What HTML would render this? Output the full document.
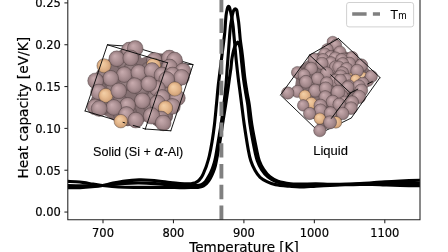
<!DOCTYPE html>
<html><head><meta charset="utf-8"><title>Heat capacity</title>
<style>
html,body{margin:0;padding:0;background:#fff;}
body{width:448px;height:252px;overflow:hidden;}
svg{display:block;}
.tk{font-family:"DejaVu Sans","Liberation Sans",sans-serif;font-size:11.5px;fill:#000;stroke:#000;stroke-width:0.18px;}
.al{font-family:"DejaVu Sans","Liberation Sans",sans-serif;font-size:13.55px;fill:#000;stroke:#000;stroke-width:0.18px;}
.an{font-family:"Liberation Sans",sans-serif;font-size:12.65px;fill:#000;stroke:#000;stroke-width:0.12px;}
</style></head><body>
<svg width="448" height="252" viewBox="0 0 448 252">
<defs>
<radialGradient id="gm" cx="0.5" cy="0.5" r="0.5" fx="0.36" fy="0.32">
<stop offset="0" stop-color="#c9acaf"/><stop offset="0.45" stop-color="#b3979a"/><stop offset="0.8" stop-color="#9e8487"/><stop offset="0.95" stop-color="#8b7376"/><stop offset="1" stop-color="#766163"/>
</radialGradient>
<radialGradient id="gd" cx="0.5" cy="0.5" r="0.5" fx="0.4" fy="0.36">
<stop offset="0" stop-color="#9c8688"/><stop offset="0.6" stop-color="#897476"/><stop offset="1" stop-color="#6b595b"/>
</radialGradient>
<radialGradient id="go" cx="0.5" cy="0.5" r="0.5" fx="0.36" fy="0.32">
<stop offset="0" stop-color="#f3d0a8"/><stop offset="0.45" stop-color="#e9be93"/><stop offset="0.8" stop-color="#d9aa80"/><stop offset="0.95" stop-color="#c39870"/><stop offset="1" stop-color="#a27e5b"/>
</radialGradient>
<clipPath id="axclip"><rect x="67.80" y="-10" width="352.20" height="229.80"/></clipPath>
</defs>
<rect width="448" height="252" fill="#fff"/>

<path d="M107.40,44.80 L132.90,46.60 M132.90,46.60 L193.10,64.60 M167.60,62.80 L193.10,64.60" stroke="#0a0a0a" stroke-width="0.95" fill="none"/>
<polygon points="104.0,65.8 116.4,57.9 129.3,50.0 135.2,48.2 139.6,62.0 154.6,56.6 167.5,56.5 173.5,58.4 183.0,71.0 181.0,77.5 174.8,89.0 177.4,98.0 172.4,106.4 163.2,122.9 151.7,115.6 140.3,120.0 135.0,119.5 120.8,121.3 99.2,108.5 95.1,106.9 98.6,92.0 95.6,80.8" fill="#857072" stroke="#857072" stroke-width="6" stroke-linejoin="round"/>
<circle cx="131.7" cy="52.1" r="7.6" fill="url(#gd)"/>
<circle cx="125.6" cy="55.5" r="7.6" fill="url(#gd)"/>
<circle cx="159.1" cy="61.2" r="7.6" fill="url(#gd)"/>
<circle cx="164.4" cy="61.8" r="7.6" fill="url(#gd)"/>
<circle cx="161.9" cy="64.4" r="7.6" fill="url(#gd)"/>
<circle cx="153.3" cy="65.3" r="7.6" fill="url(#gd)"/>
<circle cx="156.7" cy="66.8" r="7.6" fill="url(#gd)"/>
<circle cx="162.0" cy="67.4" r="7.6" fill="url(#gd)"/>
<circle cx="171.1" cy="61.7" r="7.6" fill="url(#gd)"/>
<circle cx="175.6" cy="63.0" r="7.6" fill="url(#gd)"/>
<circle cx="167.0" cy="66.7" r="7.6" fill="url(#gd)"/>
<circle cx="170.5" cy="66.7" r="7.6" fill="url(#gd)"/>
<circle cx="175.0" cy="68.0" r="7.6" fill="url(#gd)"/>
<circle cx="179.7" cy="69.4" r="7.6" fill="url(#gd)"/>
<circle cx="176.2" cy="70.8" r="7.6" fill="url(#gd)"/>
<circle cx="123.9" cy="63.7" r="7.6" fill="url(#gd)"/>
<circle cx="131.3" cy="68.3" r="7.6" fill="url(#gd)"/>
<circle cx="163.3" cy="70.6" r="7.6" fill="url(#gd)"/>
<circle cx="148.1" cy="69.4" r="7.6" fill="url(#gd)"/>
<circle cx="147.1" cy="73.8" r="7.6" fill="url(#gd)"/>
<circle cx="155.9" cy="70.2" r="7.6" fill="url(#gd)"/>
<circle cx="151.5" cy="73.2" r="7.6" fill="url(#gd)"/>
<circle cx="160.8" cy="73.2" r="7.6" fill="url(#gd)"/>
<circle cx="154.8" cy="74.7" r="7.6" fill="url(#gd)"/>
<circle cx="173.1" cy="72.5" r="7.6" fill="url(#gd)"/>
<circle cx="168.0" cy="72.3" r="7.6" fill="url(#gd)"/>
<circle cx="179.0" cy="74.4" r="7.6" fill="url(#gd)"/>
<circle cx="103.4" cy="75.0" r="7.6" fill="url(#gd)"/>
<circle cx="132.5" cy="77.6" r="7.6" fill="url(#gd)"/>
<circle cx="117.9" cy="81.2" r="7.6" fill="url(#gd)"/>
<circle cx="125.8" cy="83.7" r="7.6" fill="url(#gd)"/>
<circle cx="140.7" cy="80.6" r="7.6" fill="url(#gd)"/>
<circle cx="157.1" cy="78.0" r="7.6" fill="url(#gd)"/>
<circle cx="152.7" cy="81.0" r="7.6" fill="url(#gd)"/>
<circle cx="167.1" cy="76.5" r="7.6" fill="url(#gd)"/>
<circle cx="169.8" cy="79.7" r="7.6" fill="url(#gd)"/>
<circle cx="162.0" cy="81.0" r="7.6" fill="url(#gd)"/>
<circle cx="164.7" cy="84.2" r="7.6" fill="url(#gd)"/>
<circle cx="156.1" cy="82.5" r="7.6" fill="url(#gd)"/>
<circle cx="101.6" cy="83.7" r="7.6" fill="url(#gd)"/>
<circle cx="105.0" cy="88.6" r="7.6" fill="url(#gd)"/>
<circle cx="111.7" cy="88.2" r="7.6" fill="url(#gd)"/>
<circle cx="100.0" cy="89.4" r="7.6" fill="url(#gd)"/>
<circle cx="173.6" cy="77.3" r="7.6" fill="url(#gd)"/>
<circle cx="176.3" cy="80.4" r="7.6" fill="url(#gd)"/>
<circle cx="167.8" cy="88.7" r="7.6" fill="url(#gd)"/>
<circle cx="162.0" cy="88.5" r="7.6" fill="url(#gd)"/>
<circle cx="159.2" cy="86.9" r="7.6" fill="url(#gd)"/>
<circle cx="171.4" cy="94.8" r="7.6" fill="url(#gd)"/>
<circle cx="174.9" cy="97.8" r="7.6" fill="url(#gd)"/>
<circle cx="170.6" cy="100.6" r="7.6" fill="url(#gd)"/>
<circle cx="171.8" cy="104.1" r="7.6" fill="url(#gd)"/>
<circle cx="164.7" cy="91.7" r="7.6" fill="url(#gd)"/>
<circle cx="169.7" cy="97.6" r="7.6" fill="url(#gd)"/>
<circle cx="156.1" cy="90.0" r="7.6" fill="url(#gd)"/>
<circle cx="149.5" cy="91.1" r="7.6" fill="url(#gd)"/>
<circle cx="158.9" cy="96.4" r="7.6" fill="url(#gd)"/>
<circle cx="152.4" cy="97.5" r="7.6" fill="url(#gd)"/>
<circle cx="141.9" cy="90.1" r="7.6" fill="url(#gd)"/>
<circle cx="99.8" cy="98.1" r="7.6" fill="url(#gd)"/>
<circle cx="97.6" cy="102.5" r="7.6" fill="url(#gd)"/>
<circle cx="112.8" cy="97.9" r="7.6" fill="url(#gd)"/>
<circle cx="104.9" cy="103.3" r="7.6" fill="url(#gd)"/>
<circle cx="120.0" cy="101.2" r="7.6" fill="url(#gd)"/>
<circle cx="163.9" cy="102.3" r="7.6" fill="url(#gd)"/>
<circle cx="166.6" cy="103.9" r="7.6" fill="url(#gd)"/>
<circle cx="163.6" cy="109.5" r="7.6" fill="url(#gd)"/>
<circle cx="158.1" cy="108.9" r="7.6" fill="url(#gd)"/>
<circle cx="150.4" cy="106.5" r="7.6" fill="url(#gd)"/>
<circle cx="156.6" cy="112.6" r="7.6" fill="url(#gd)"/>
<circle cx="166.3" cy="111.1" r="7.6" fill="url(#gd)"/>
<circle cx="165.5" cy="116.1" r="7.6" fill="url(#gd)"/>
<circle cx="159.3" cy="114.2" r="7.6" fill="url(#gd)"/>
<circle cx="102.7" cy="107.6" r="7.6" fill="url(#gd)"/>
<circle cx="122.6" cy="109.1" r="7.6" fill="url(#gd)"/>
<circle cx="130.0" cy="113.3" r="7.6" fill="url(#gd)"/>
<circle cx="125.0" cy="113.7" r="7.6" fill="url(#gd)"/>
<circle cx="120.4" cy="114.4" r="7.6" fill="url(#gd)"/>
<circle cx="127.7" cy="118.6" r="7.6" fill="url(#gd)"/>
<circle cx="158.6" cy="119.2" r="7.6" fill="url(#gd)"/>
<circle cx="129.3" cy="50.0" r="7.9" fill="url(#gm)" stroke="#4a3c3c" stroke-opacity="0.6" stroke-width="0.6"/>
<circle cx="135.2" cy="48.4" r="7.9" fill="url(#gm)" stroke="#4a3c3c" stroke-opacity="0.6" stroke-width="0.6"/>
<circle cx="154.4" cy="60.3" r="7.9" fill="url(#gm)" stroke="#4a3c3c" stroke-opacity="0.6" stroke-width="0.6"/>
<circle cx="169.4" cy="58.0" r="7.9" fill="url(#gm)" stroke="#4a3c3c" stroke-opacity="0.6" stroke-width="0.6"/>
<circle cx="174.5" cy="60.0" r="7.9" fill="url(#gm)" stroke="#4a3c3c" stroke-opacity="0.6" stroke-width="0.6"/>
<circle cx="116.8" cy="58.7" r="7.9" fill="url(#gm)" stroke="#4a3c3c" stroke-opacity="0.6" stroke-width="0.6"/>
<circle cx="130.7" cy="57.9" r="7.9" fill="url(#gm)" stroke="#4a3c3c" stroke-opacity="0.6" stroke-width="0.6"/>
<circle cx="153.6" cy="65.2" r="7.2" fill="url(#go)" stroke="#4a3c3c" stroke-opacity="0.6" stroke-width="0.6"/>
<circle cx="169.5" cy="67.0" r="7.9" fill="url(#gm)" stroke="#4a3c3c" stroke-opacity="0.6" stroke-width="0.6"/>
<circle cx="183.0" cy="71.0" r="7.9" fill="url(#gm)" stroke="#4a3c3c" stroke-opacity="0.6" stroke-width="0.6"/>
<circle cx="104.0" cy="65.8" r="7.1" fill="url(#go)" stroke="#4a3c3c" stroke-opacity="0.6" stroke-width="0.6"/>
<circle cx="124.3" cy="74.6" r="7.9" fill="url(#gm)" stroke="#4a3c3c" stroke-opacity="0.6" stroke-width="0.6"/>
<circle cx="138.8" cy="72.5" r="7.9" fill="url(#gm)" stroke="#4a3c3c" stroke-opacity="0.6" stroke-width="0.6"/>
<circle cx="152.0" cy="70.5" r="7.9" fill="url(#gm)" stroke="#4a3c3c" stroke-opacity="0.6" stroke-width="0.6"/>
<circle cx="162.0" cy="75.0" r="7.9" fill="url(#gm)" stroke="#4a3c3c" stroke-opacity="0.6" stroke-width="0.6"/>
<circle cx="110.7" cy="78.3" r="7.9" fill="url(#gm)" stroke="#4a3c3c" stroke-opacity="0.6" stroke-width="0.6"/>
<circle cx="95.6" cy="80.8" r="7.9" fill="url(#gm)" stroke="#4a3c3c" stroke-opacity="0.6" stroke-width="0.6"/>
<circle cx="172.5" cy="75.0" r="7.9" fill="url(#gm)" stroke="#4a3c3c" stroke-opacity="0.6" stroke-width="0.6"/>
<circle cx="181.5" cy="77.3" r="7.9" fill="url(#gm)" stroke="#4a3c3c" stroke-opacity="0.6" stroke-width="0.6"/>
<circle cx="166.7" cy="79.5" r="7.9" fill="url(#gm)" stroke="#4a3c3c" stroke-opacity="0.6" stroke-width="0.6"/>
<circle cx="177.4" cy="98.0" r="7.9" fill="url(#gm)" stroke="#4a3c3c" stroke-opacity="0.6" stroke-width="0.6"/>
<circle cx="174.8" cy="89.0" r="7.2" fill="url(#go)" stroke="#4a3c3c" stroke-opacity="0.6" stroke-width="0.6"/>
<circle cx="157.4" cy="88.6" r="7.9" fill="url(#gm)" stroke="#4a3c3c" stroke-opacity="0.6" stroke-width="0.6"/>
<circle cx="134.5" cy="85.6" r="7.9" fill="url(#gm)" stroke="#4a3c3c" stroke-opacity="0.6" stroke-width="0.6"/>
<circle cx="148.8" cy="83.8" r="7.9" fill="url(#gm)" stroke="#4a3c3c" stroke-opacity="0.6" stroke-width="0.6"/>
<circle cx="98.6" cy="92.0" r="7.9" fill="url(#gm)" stroke="#4a3c3c" stroke-opacity="0.6" stroke-width="0.6"/>
<circle cx="105.8" cy="95.5" r="7.2" fill="url(#go)" stroke="#4a3c3c" stroke-opacity="0.6" stroke-width="0.6"/>
<circle cx="118.7" cy="90.8" r="7.9" fill="url(#gm)" stroke="#4a3c3c" stroke-opacity="0.6" stroke-width="0.6"/>
<circle cx="162.0" cy="97.5" r="7.9" fill="url(#gm)" stroke="#4a3c3c" stroke-opacity="0.6" stroke-width="0.6"/>
<circle cx="157.4" cy="103.0" r="7.9" fill="url(#gm)" stroke="#4a3c3c" stroke-opacity="0.6" stroke-width="0.6"/>
<circle cx="172.4" cy="106.4" r="7.9" fill="url(#gm)" stroke="#4a3c3c" stroke-opacity="0.6" stroke-width="0.6"/>
<circle cx="165.5" cy="107.9" r="7.2" fill="url(#go)" stroke="#4a3c3c" stroke-opacity="0.6" stroke-width="0.6"/>
<circle cx="95.1" cy="106.9" r="7.9" fill="url(#gm)" stroke="#4a3c3c" stroke-opacity="0.6" stroke-width="0.6"/>
<circle cx="142.3" cy="100.8" r="7.9" fill="url(#gm)" stroke="#4a3c3c" stroke-opacity="0.6" stroke-width="0.6"/>
<circle cx="127.6" cy="105.3" r="7.9" fill="url(#gm)" stroke="#4a3c3c" stroke-opacity="0.6" stroke-width="0.6"/>
<circle cx="113.8" cy="107.4" r="7.9" fill="url(#gm)" stroke="#4a3c3c" stroke-opacity="0.6" stroke-width="0.6"/>
<circle cx="99.2" cy="108.5" r="7.9" fill="url(#gm)" stroke="#4a3c3c" stroke-opacity="0.6" stroke-width="0.6"/>
<circle cx="126.5" cy="114.5" r="7.9" fill="url(#gm)" stroke="#4a3c3c" stroke-opacity="0.6" stroke-width="0.6"/>
<circle cx="161.0" cy="119.0" r="7.9" fill="url(#gm)" stroke="#4a3c3c" stroke-opacity="0.6" stroke-width="0.6"/>
<circle cx="135.8" cy="120.1" r="7.9" fill="url(#gm)" stroke="#4a3c3c" stroke-opacity="0.6" stroke-width="0.6"/>
<circle cx="151.5" cy="115.8" r="8.3" fill="url(#gm)" stroke="#4a3c3c" stroke-opacity="0.6" stroke-width="0.6"/>
<circle cx="163.2" cy="122.9" r="7.9" fill="url(#gm)" stroke="#4a3c3c" stroke-opacity="0.6" stroke-width="0.6"/>
<circle cx="120.8" cy="121.2" r="6.8" fill="url(#go)" stroke="#4a3c3c" stroke-opacity="0.6" stroke-width="0.6"/>
<path d="M107.40,44.80 L167.60,62.80 M107.40,44.80 L85.10,111.00 M167.60,62.80 L145.30,129.00 M145.30,129.00 L170.80,130.80 M193.10,64.60 L170.80,130.80 M85.10,111.00 L113.39,119.46 M123.03,122.34 L124.83,122.88 M133.26,125.40 L139.88,127.38 M142.89,128.28 L145.30,129.00" stroke="#0a0a0a" stroke-width="0.95" fill="none" stroke-linecap="round"/>
<path d="M280.50,95.00 L320.30,133.20 M320.30,133.20 L351.30,118.00" stroke="#0a0a0a" stroke-width="0.95" fill="none" stroke-linejoin="round"/>
<polygon points="332.7,41.9 339.9,52.0 352.1,57.4 361.4,65.2 371.3,76.4 362.8,83.4 361.2,90.4 359.0,96.9 352.1,102.2 351.0,108.1 342.6,113.5 335.9,122.3 330.0,122.3 319.8,130.6 319.8,118.6 309.6,113.5 311.3,103.2 304.9,95.8 297.4,91.4 287.8,93.0 297.4,91.4 299.0,80.0 297.4,72.4 313.9,59.0 324.7,53.7 327.3,49.4" fill="#857072" stroke="#857072" stroke-width="6" stroke-linejoin="round"/>
<circle cx="332.0" cy="45.5" r="5.4" fill="url(#gd)"/>
<circle cx="334.4" cy="48.8" r="5.4" fill="url(#gd)"/>
<circle cx="331.2" cy="50.3" r="5.4" fill="url(#gd)"/>
<circle cx="337.0" cy="51.7" r="5.4" fill="url(#gd)"/>
<circle cx="333.9" cy="53.2" r="5.4" fill="url(#gd)"/>
<circle cx="327.5" cy="53.2" r="5.4" fill="url(#gd)"/>
<circle cx="331.0" cy="54.6" r="5.4" fill="url(#gd)"/>
<circle cx="337.3" cy="56.0" r="5.4" fill="url(#gd)"/>
<circle cx="341.8" cy="56.8" r="5.4" fill="url(#gd)"/>
<circle cx="326.1" cy="56.5" r="5.4" fill="url(#gd)"/>
<circle cx="320.5" cy="57.4" r="5.4" fill="url(#gd)"/>
<circle cx="323.2" cy="58.9" r="5.4" fill="url(#gd)"/>
<circle cx="330.3" cy="58.1" r="5.4" fill="url(#gd)"/>
<circle cx="333.8" cy="60.5" r="5.4" fill="url(#gd)"/>
<circle cx="327.8" cy="60.8" r="5.4" fill="url(#gd)"/>
<circle cx="319.6" cy="60.6" r="5.4" fill="url(#gd)"/>
<circle cx="315.7" cy="63.7" r="5.4" fill="url(#gd)"/>
<circle cx="340.6" cy="60.2" r="5.4" fill="url(#gd)"/>
<circle cx="337.5" cy="61.5" r="5.4" fill="url(#gd)"/>
<circle cx="345.9" cy="58.6" r="5.4" fill="url(#gd)"/>
<circle cx="347.5" cy="61.7" r="5.4" fill="url(#gd)"/>
<circle cx="344.0" cy="62.4" r="5.4" fill="url(#gd)"/>
<circle cx="340.7" cy="63.2" r="5.4" fill="url(#gd)"/>
<circle cx="354.3" cy="62.0" r="5.4" fill="url(#gd)"/>
<circle cx="326.6" cy="66.4" r="5.4" fill="url(#gd)"/>
<circle cx="336.4" cy="64.4" r="5.4" fill="url(#gd)"/>
<circle cx="331.1" cy="67.6" r="5.4" fill="url(#gd)"/>
<circle cx="346.5" cy="66.5" r="5.4" fill="url(#gd)"/>
<circle cx="346.5" cy="69.5" r="5.4" fill="url(#gd)"/>
<circle cx="351.4" cy="68.8" r="5.4" fill="url(#gd)"/>
<circle cx="343.0" cy="67.7" r="5.4" fill="url(#gd)"/>
<circle cx="343.6" cy="70.7" r="5.4" fill="url(#gd)"/>
<circle cx="346.9" cy="73.6" r="5.4" fill="url(#gd)"/>
<circle cx="343.6" cy="73.8" r="5.4" fill="url(#gd)"/>
<circle cx="353.5" cy="74.3" r="5.4" fill="url(#gd)"/>
<circle cx="344.9" cy="77.5" r="5.4" fill="url(#gd)"/>
<circle cx="350.0" cy="77.3" r="5.4" fill="url(#gd)"/>
<circle cx="360.4" cy="71.1" r="5.4" fill="url(#gd)"/>
<circle cx="358.5" cy="75.9" r="5.4" fill="url(#gd)"/>
<circle cx="367.4" cy="78.3" r="5.4" fill="url(#gd)"/>
<circle cx="362.2" cy="79.3" r="5.4" fill="url(#gd)"/>
<circle cx="359.2" cy="81.1" r="5.4" fill="url(#gd)"/>
<circle cx="361.0" cy="84.7" r="5.4" fill="url(#gd)"/>
<circle cx="356.0" cy="66.4" r="5.4" fill="url(#gd)"/>
<circle cx="339.6" cy="68.9" r="5.4" fill="url(#gd)"/>
<circle cx="339.6" cy="71.9" r="5.4" fill="url(#gd)"/>
<circle cx="300.8" cy="73.8" r="5.4" fill="url(#gd)"/>
<circle cx="305.4" cy="72.5" r="5.4" fill="url(#gd)"/>
<circle cx="303.6" cy="76.9" r="5.4" fill="url(#gd)"/>
<circle cx="339.5" cy="76.4" r="5.4" fill="url(#gd)"/>
<circle cx="323.8" cy="78.3" r="5.4" fill="url(#gd)"/>
<circle cx="329.7" cy="78.9" r="5.4" fill="url(#gd)"/>
<circle cx="312.9" cy="83.7" r="5.4" fill="url(#gd)"/>
<circle cx="323.4" cy="83.3" r="5.4" fill="url(#gd)"/>
<circle cx="319.5" cy="85.8" r="5.4" fill="url(#gd)"/>
<circle cx="340.8" cy="80.1" r="5.4" fill="url(#gd)"/>
<circle cx="337.9" cy="84.2" r="5.4" fill="url(#gd)"/>
<circle cx="329.3" cy="83.9" r="5.4" fill="url(#gd)"/>
<circle cx="333.0" cy="86.9" r="5.4" fill="url(#gd)"/>
<circle cx="345.3" cy="82.0" r="5.4" fill="url(#gd)"/>
<circle cx="350.4" cy="81.8" r="5.4" fill="url(#gd)"/>
<circle cx="347.8" cy="84.3" r="5.4" fill="url(#gd)"/>
<circle cx="342.4" cy="86.1" r="5.4" fill="url(#gd)"/>
<circle cx="354.5" cy="83.9" r="5.4" fill="url(#gd)"/>
<circle cx="351.9" cy="86.5" r="5.4" fill="url(#gd)"/>
<circle cx="346.0" cy="89.7" r="5.4" fill="url(#gd)"/>
<circle cx="342.8" cy="91.3" r="5.4" fill="url(#gd)"/>
<circle cx="359.7" cy="91.1" r="5.4" fill="url(#gd)"/>
<circle cx="322.0" cy="91.9" r="5.4" fill="url(#gd)"/>
<circle cx="326.1" cy="101.4" r="5.4" fill="url(#gd)"/>
<circle cx="337.4" cy="96.5" r="5.4" fill="url(#gd)"/>
<circle cx="341.5" cy="96.7" r="5.4" fill="url(#gd)"/>
<circle cx="339.7" cy="99.9" r="5.4" fill="url(#gd)"/>
<circle cx="346.2" cy="100.1" r="5.4" fill="url(#gd)"/>
<circle cx="327.9" cy="106.8" r="5.4" fill="url(#gd)"/>
<circle cx="334.1" cy="106.4" r="5.4" fill="url(#gd)"/>
<circle cx="349.4" cy="104.2" r="5.4" fill="url(#gd)"/>
<circle cx="345.1" cy="104.9" r="5.4" fill="url(#gd)"/>
<circle cx="342.3" cy="106.7" r="5.4" fill="url(#gd)"/>
<circle cx="346.2" cy="107.9" r="5.4" fill="url(#gd)"/>
<circle cx="317.4" cy="106.3" r="5.4" fill="url(#gd)"/>
<circle cx="313.8" cy="108.9" r="5.4" fill="url(#gd)"/>
<circle cx="323.8" cy="109.6" r="5.4" fill="url(#gd)"/>
<circle cx="337.4" cy="110.3" r="5.4" fill="url(#gd)"/>
<circle cx="323.6" cy="113.9" r="5.4" fill="url(#gd)"/>
<circle cx="316.6" cy="114.1" r="5.4" fill="url(#gd)"/>
<circle cx="336.3" cy="116.3" r="5.4" fill="url(#gd)"/>
<circle cx="332.1" cy="119.2" r="5.4" fill="url(#gd)"/>
<circle cx="326.8" cy="118.0" r="5.4" fill="url(#gd)"/>
<circle cx="332.7" cy="41.9" r="5.7" fill="url(#gm)" stroke="#4a3c3c" stroke-opacity="0.6" stroke-width="0.6"/>
<circle cx="335.9" cy="45.1" r="5.8" fill="url(#gm)" stroke="#4a3c3c" stroke-opacity="0.6" stroke-width="0.6"/>
<circle cx="327.3" cy="49.4" r="5.9" fill="url(#gm)" stroke="#4a3c3c" stroke-opacity="0.6" stroke-width="0.6"/>
<circle cx="339.9" cy="52.0" r="6.1" fill="url(#gm)" stroke="#4a3c3c" stroke-opacity="0.6" stroke-width="0.6"/>
<circle cx="324.7" cy="53.7" r="5.9" fill="url(#gm)" stroke="#4a3c3c" stroke-opacity="0.6" stroke-width="0.6"/>
<circle cx="330.5" cy="56.4" r="5.9" fill="url(#gm)" stroke="#4a3c3c" stroke-opacity="0.6" stroke-width="0.6"/>
<circle cx="313.9" cy="59.0" r="6.0" fill="url(#gm)" stroke="#4a3c3c" stroke-opacity="0.6" stroke-width="0.6"/>
<circle cx="323.0" cy="59.5" r="6.1" fill="url(#gm)" stroke="#4a3c3c" stroke-opacity="0.6" stroke-width="0.6"/>
<circle cx="335.2" cy="58.0" r="6.2" fill="url(#gm)" stroke="#4a3c3c" stroke-opacity="0.6" stroke-width="0.6"/>
<circle cx="344.0" cy="59.0" r="6.1" fill="url(#gm)" stroke="#4a3c3c" stroke-opacity="0.6" stroke-width="0.6"/>
<circle cx="352.1" cy="57.4" r="6.1" fill="url(#gm)" stroke="#4a3c3c" stroke-opacity="0.6" stroke-width="0.6"/>
<circle cx="331.0" cy="62.7" r="6.1" fill="url(#gm)" stroke="#4a3c3c" stroke-opacity="0.6" stroke-width="0.6"/>
<circle cx="341.6" cy="59.5" r="6.1" fill="url(#gm)" stroke="#4a3c3c" stroke-opacity="0.6" stroke-width="0.6"/>
<circle cx="347.6" cy="72.6" r="5.7" fill="url(#go)" stroke="#4a3c3c" stroke-opacity="0.6" stroke-width="0.6"/>
<circle cx="362.8" cy="77.6" r="5.7" fill="url(#go)" stroke="#4a3c3c" stroke-opacity="0.6" stroke-width="0.6"/>
<circle cx="349.4" cy="63.3" r="6.2" fill="url(#gm)" stroke="#4a3c3c" stroke-opacity="0.6" stroke-width="0.6"/>
<circle cx="361.4" cy="65.2" r="6.4" fill="url(#gm)" stroke="#4a3c3c" stroke-opacity="0.6" stroke-width="0.6"/>
<circle cx="322.0" cy="63.4" r="6.2" fill="url(#gm)" stroke="#4a3c3c" stroke-opacity="0.6" stroke-width="0.6"/>
<circle cx="342.6" cy="63.6" r="6.2" fill="url(#gm)" stroke="#4a3c3c" stroke-opacity="0.6" stroke-width="0.6"/>
<circle cx="335.6" cy="67.0" r="6.3" fill="url(#gm)" stroke="#4a3c3c" stroke-opacity="0.6" stroke-width="0.6"/>
<circle cx="338.7" cy="67.0" r="6.1" fill="url(#gm)" stroke="#4a3c3c" stroke-opacity="0.6" stroke-width="0.6"/>
<circle cx="301.0" cy="74.0" r="6.1" fill="url(#gm)" stroke="#4a3c3c" stroke-opacity="0.6" stroke-width="0.6"/>
<circle cx="297.4" cy="72.4" r="6.0" fill="url(#gm)" stroke="#4a3c3c" stroke-opacity="0.6" stroke-width="0.6"/>
<circle cx="311.2" cy="68.6" r="6.4" fill="url(#gm)" stroke="#4a3c3c" stroke-opacity="0.6" stroke-width="0.6"/>
<circle cx="346.5" cy="68.6" r="6.2" fill="url(#gm)" stroke="#4a3c3c" stroke-opacity="0.6" stroke-width="0.6"/>
<circle cx="342.4" cy="72.7" r="6.2" fill="url(#gm)" stroke="#4a3c3c" stroke-opacity="0.6" stroke-width="0.6"/>
<circle cx="357.1" cy="70.6" r="6.4" fill="url(#gm)" stroke="#4a3c3c" stroke-opacity="0.6" stroke-width="0.6"/>
<circle cx="304.0" cy="75.0" r="6.1" fill="url(#gm)" stroke="#4a3c3c" stroke-opacity="0.6" stroke-width="0.6"/>
<circle cx="326.8" cy="73.2" r="6.4" fill="url(#gm)" stroke="#4a3c3c" stroke-opacity="0.6" stroke-width="0.6"/>
<circle cx="340.7" cy="76.0" r="6.3" fill="url(#gm)" stroke="#4a3c3c" stroke-opacity="0.6" stroke-width="0.6"/>
<circle cx="368.0" cy="80.8" r="5.7" fill="url(#gm)" stroke="#4a3c3c" stroke-opacity="0.6" stroke-width="0.6"/>
<circle cx="371.3" cy="76.4" r="6.2" fill="url(#gm)" stroke="#4a3c3c" stroke-opacity="0.6" stroke-width="0.6"/>
<circle cx="317.7" cy="78.6" r="6.4" fill="url(#gm)" stroke="#4a3c3c" stroke-opacity="0.6" stroke-width="0.6"/>
<circle cx="335.4" cy="80.4" r="6.4" fill="url(#gm)" stroke="#4a3c3c" stroke-opacity="0.6" stroke-width="0.6"/>
<circle cx="346.7" cy="79.7" r="6.3" fill="url(#gm)" stroke="#4a3c3c" stroke-opacity="0.6" stroke-width="0.6"/>
<circle cx="340.3" cy="80.2" r="6.2" fill="url(#gm)" stroke="#4a3c3c" stroke-opacity="0.6" stroke-width="0.6"/>
<circle cx="305.9" cy="81.8" r="6.5" fill="url(#gm)" stroke="#4a3c3c" stroke-opacity="0.6" stroke-width="0.6"/>
<circle cx="326.8" cy="83.0" r="6.3" fill="url(#gm)" stroke="#4a3c3c" stroke-opacity="0.6" stroke-width="0.6"/>
<circle cx="355.7" cy="79.6" r="5.3" fill="url(#go)" stroke="#4a3c3c" stroke-opacity="0.6" stroke-width="0.6"/>
<circle cx="362.8" cy="83.4" r="6.2" fill="url(#gm)" stroke="#4a3c3c" stroke-opacity="0.6" stroke-width="0.6"/>
<circle cx="348.9" cy="86.1" r="6.3" fill="url(#gm)" stroke="#4a3c3c" stroke-opacity="0.6" stroke-width="0.6"/>
<circle cx="359.0" cy="86.1" r="6.3" fill="url(#gm)" stroke="#4a3c3c" stroke-opacity="0.6" stroke-width="0.6"/>
<circle cx="315.2" cy="90.6" r="6.6" fill="url(#gm)" stroke="#4a3c3c" stroke-opacity="0.6" stroke-width="0.6"/>
<circle cx="325.7" cy="88.3" r="6.5" fill="url(#gm)" stroke="#4a3c3c" stroke-opacity="0.6" stroke-width="0.6"/>
<circle cx="361.2" cy="90.4" r="6.5" fill="url(#gm)" stroke="#4a3c3c" stroke-opacity="0.6" stroke-width="0.6"/>
<circle cx="297.4" cy="91.4" r="6.2" fill="url(#gm)" stroke="#4a3c3c" stroke-opacity="0.6" stroke-width="0.6"/>
<circle cx="287.8" cy="93.0" r="6.2" fill="url(#gm)" stroke="#4a3c3c" stroke-opacity="0.6" stroke-width="0.6"/>
<circle cx="347.8" cy="87.2" r="6.3" fill="url(#gm)" stroke="#4a3c3c" stroke-opacity="0.6" stroke-width="0.6"/>
<circle cx="304.9" cy="95.8" r="5.9" fill="url(#go)" stroke="#4a3c3c" stroke-opacity="0.6" stroke-width="0.6"/>
<circle cx="325.2" cy="96.9" r="6.3" fill="url(#gm)" stroke="#4a3c3c" stroke-opacity="0.6" stroke-width="0.6"/>
<circle cx="341.4" cy="95.8" r="6.5" fill="url(#gm)" stroke="#4a3c3c" stroke-opacity="0.6" stroke-width="0.6"/>
<circle cx="338.0" cy="92.0" r="6.9" fill="url(#gm)" stroke="#4a3c3c" stroke-opacity="0.6" stroke-width="0.6"/>
<circle cx="359.0" cy="96.9" r="6.7" fill="url(#gm)" stroke="#4a3c3c" stroke-opacity="0.6" stroke-width="0.6"/>
<circle cx="332.7" cy="101.7" r="6.6" fill="url(#gm)" stroke="#4a3c3c" stroke-opacity="0.6" stroke-width="0.6"/>
<circle cx="345.0" cy="102.2" r="6.3" fill="url(#gm)" stroke="#4a3c3c" stroke-opacity="0.6" stroke-width="0.6"/>
<circle cx="352.1" cy="102.2" r="6.5" fill="url(#gm)" stroke="#4a3c3c" stroke-opacity="0.6" stroke-width="0.6"/>
<circle cx="311.3" cy="103.2" r="6.0" fill="url(#go)" stroke="#4a3c3c" stroke-opacity="0.6" stroke-width="0.6"/>
<circle cx="303.2" cy="105.4" r="5.8" fill="url(#gm)" stroke="#4a3c3c" stroke-opacity="0.6" stroke-width="0.6"/>
<circle cx="320.4" cy="105.6" r="6.5" fill="url(#gm)" stroke="#4a3c3c" stroke-opacity="0.6" stroke-width="0.6"/>
<circle cx="339.2" cy="104.4" r="6.4" fill="url(#gm)" stroke="#4a3c3c" stroke-opacity="0.6" stroke-width="0.6"/>
<circle cx="351.0" cy="108.1" r="6.4" fill="url(#gm)" stroke="#4a3c3c" stroke-opacity="0.6" stroke-width="0.6"/>
<circle cx="320.4" cy="110.1" r="6.3" fill="url(#gm)" stroke="#4a3c3c" stroke-opacity="0.6" stroke-width="0.6"/>
<circle cx="330.5" cy="113.0" r="6.4" fill="url(#gm)" stroke="#4a3c3c" stroke-opacity="0.6" stroke-width="0.6"/>
<circle cx="342.6" cy="113.5" r="6.3" fill="url(#gm)" stroke="#4a3c3c" stroke-opacity="0.6" stroke-width="0.6"/>
<circle cx="309.6" cy="113.5" r="6.2" fill="url(#gm)" stroke="#4a3c3c" stroke-opacity="0.6" stroke-width="0.6"/>
<circle cx="335.9" cy="122.3" r="5.9" fill="url(#go)" stroke="#4a3c3c" stroke-opacity="0.6" stroke-width="0.6"/>
<circle cx="319.8" cy="118.6" r="5.7" fill="url(#go)" stroke="#4a3c3c" stroke-opacity="0.6" stroke-width="0.6"/>
<circle cx="330.0" cy="122.3" r="6.6" fill="url(#gm)" stroke="#4a3c3c" stroke-opacity="0.6" stroke-width="0.6"/>
<circle cx="319.8" cy="130.6" r="6.2" fill="url(#gm)" stroke="#4a3c3c" stroke-opacity="0.6" stroke-width="0.6"/>
<path d="M309.60,55.10 L338.40,38.50 M338.40,38.50 L380.00,77.50 M309.60,55.10 L280.50,95.00 M380.00,77.50 L351.30,118.00 M309.60,55.10 L325.92,70.26 M330.82,74.81 L350.40,93.00 M350.40,93.00 L357.80,89.12 M367.57,84.01 L372.30,81.53 M350.40,93.00 L331.44,118.33" stroke="#0a0a0a" stroke-width="0.95" fill="none" stroke-linecap="round"/>
<g clip-path="url(#axclip)" fill="none" stroke="#000" stroke-width="3.12" stroke-linejoin="round" stroke-linecap="butt">
<path d="M60.00,187.70 C61.33,187.70 64.67,187.72 68.00,187.70 C71.33,187.68 76.00,187.75 80.00,187.60 C84.00,187.45 88.27,187.15 92.00,186.80 C95.73,186.45 99.07,186.07 102.40,185.50 C105.73,184.93 108.23,184.15 112.00,183.40 C115.77,182.65 120.50,181.58 125.00,181.00 C129.50,180.42 134.83,180.03 139.00,179.90 C143.17,179.77 146.50,179.98 150.00,180.20 C153.50,180.42 156.67,180.80 160.00,181.20 C163.33,181.60 166.67,182.22 170.00,182.60 C173.33,182.98 176.50,183.32 180.00,183.50 C183.50,183.68 188.50,183.80 191.00,183.70 C193.50,183.60 193.75,183.38 195.00,182.90 C196.25,182.42 197.50,181.65 198.50,180.80 C199.50,179.95 200.27,178.83 201.00,177.80 C201.73,176.77 202.27,175.90 202.90,174.60 C203.53,173.30 204.22,171.43 204.80,170.00 C205.38,168.57 205.65,168.33 206.40,166.00 C207.15,163.67 208.37,160.00 209.30,156.00 C210.23,152.00 211.15,147.17 212.00,142.00 C212.85,136.83 213.67,131.17 214.40,125.00 C215.13,118.83 215.75,111.67 216.40,105.00 C217.05,98.33 217.63,91.17 218.30,85.00 C218.97,78.83 219.70,73.67 220.40,68.00 C221.10,62.33 221.80,56.67 222.50,51.00 C223.20,45.33 224.13,38.33 224.60,34.00 C225.07,29.67 225.07,28.00 225.30,25.00 C225.53,22.00 225.73,18.42 226.00,16.00 C226.27,13.58 226.62,11.95 226.90,10.50 C227.18,9.05 227.42,8.02 227.70,7.30 C227.98,6.58 228.30,6.20 228.60,6.20 C228.90,6.20 229.22,6.58 229.50,7.30 C229.78,8.02 229.97,9.05 230.30,10.50 C230.63,11.95 231.18,14.42 231.50,16.00 C231.82,17.58 231.92,18.17 232.20,20.00 C232.48,21.83 232.93,24.67 233.20,27.00 C233.47,29.33 233.45,30.17 233.80,34.00 C234.15,37.83 234.90,45.67 235.30,50.00 C235.70,54.33 235.72,55.33 236.20,60.00 C236.68,64.67 237.52,72.33 238.20,78.00 C238.88,83.67 239.72,89.50 240.30,94.00 C240.88,98.50 241.03,99.83 241.70,105.00 C242.37,110.17 243.20,117.50 244.30,125.00 C245.40,132.50 247.22,144.05 248.30,150.00 C249.38,155.95 249.67,157.28 250.80,160.70 C251.93,164.12 253.55,167.73 255.10,170.50 C256.65,173.27 258.13,175.45 260.10,177.30 C262.07,179.15 264.33,180.38 266.90,181.60 C269.47,182.82 271.72,183.82 275.50,184.60 C279.28,185.38 285.52,185.90 289.60,186.30 C293.68,186.70 295.60,187.03 300.00,187.00 C304.40,186.97 311.00,186.37 316.00,186.10 C321.00,185.83 325.17,185.62 330.00,185.40 C334.83,185.18 340.00,184.97 345.00,184.80 C350.00,184.63 355.50,184.47 360.00,184.40 C364.50,184.33 367.83,184.32 372.00,184.40 C376.17,184.48 380.33,184.73 385.00,184.90 C389.67,185.07 394.17,185.25 400.00,185.40 C405.83,185.55 415.00,185.72 420.00,185.80 C425.00,185.88 428.33,185.88 430.00,185.90"/>
<path d="M60.00,185.50 C61.33,185.52 64.67,185.55 68.00,185.60 C71.33,185.65 76.00,185.77 80.00,185.80 C84.00,185.83 88.27,185.85 92.00,185.80 C95.73,185.75 99.07,185.70 102.40,185.50 C105.73,185.30 108.23,184.95 112.00,184.60 C115.77,184.25 120.50,183.67 125.00,183.40 C129.50,183.13 134.00,182.97 139.00,183.00 C144.00,183.03 149.83,183.28 155.00,183.60 C160.17,183.92 165.83,184.58 170.00,184.90 C174.17,185.22 176.50,185.38 180.00,185.50 C183.50,185.62 188.17,185.58 191.00,185.60 C193.83,185.62 195.42,185.70 197.00,185.60 C198.58,185.50 199.52,185.28 200.50,185.00 C201.48,184.72 202.07,184.48 202.90,183.90 C203.73,183.32 204.63,182.58 205.50,181.50 C206.37,180.42 207.27,178.82 208.10,177.40 C208.93,175.98 209.80,174.42 210.50,173.00 C211.20,171.58 211.68,170.57 212.30,168.90 C212.92,167.23 213.62,165.15 214.20,163.00 C214.78,160.85 215.08,159.83 215.80,156.00 C216.52,152.17 217.63,145.17 218.50,140.00 C219.37,134.83 220.12,130.83 221.00,125.00 C221.88,119.17 222.98,111.50 223.80,105.00 C224.62,98.50 225.33,92.17 225.90,86.00 C226.47,79.83 226.75,74.00 227.20,68.00 C227.65,62.00 228.20,55.33 228.60,50.00 C229.00,44.67 229.30,39.83 229.60,36.00 C229.90,32.17 230.08,29.67 230.40,27.00 C230.72,24.33 231.13,22.17 231.50,20.00 C231.87,17.83 232.22,15.62 232.60,14.00 C232.98,12.38 233.33,11.18 233.80,10.30 C234.27,9.42 234.90,8.70 235.40,8.70 C235.90,8.70 236.42,9.08 236.80,10.30 C237.18,11.52 237.40,14.05 237.70,16.00 C238.00,17.95 238.32,19.67 238.60,22.00 C238.88,24.33 239.12,27.00 239.40,30.00 C239.68,33.00 239.92,36.67 240.30,40.00 C240.68,43.33 241.27,46.67 241.70,50.00 C242.13,53.33 242.38,55.33 242.90,60.00 C243.42,64.67 244.07,72.33 244.80,78.00 C245.53,83.67 246.55,89.50 247.30,94.00 C248.05,98.50 248.53,99.83 249.30,105.00 C250.07,110.17 250.67,117.50 251.90,125.00 C253.13,132.50 255.47,144.05 256.70,150.00 C257.93,155.95 258.12,157.43 259.30,160.70 C260.48,163.97 262.02,166.92 263.80,169.60 C265.58,172.28 267.63,174.86 270.00,176.80 C272.37,178.74 274.57,180.08 278.00,181.25 C281.43,182.42 286.93,183.33 290.60,183.80 C294.27,184.28 295.77,184.08 300.00,184.10 C304.23,184.12 311.00,183.87 316.00,183.90 C321.00,183.93 325.17,184.25 330.00,184.30 C334.83,184.35 340.00,184.32 345.00,184.20 C350.00,184.08 355.50,183.83 360.00,183.60 C364.50,183.37 367.83,183.10 372.00,182.80 C376.17,182.50 380.33,182.10 385.00,181.80 C389.67,181.50 394.17,181.27 400.00,181.00 C405.83,180.73 415.00,180.38 420.00,180.20 C425.00,180.02 428.33,179.95 430.00,179.90"/>
<path d="M60.00,181.20 C61.33,181.23 65.33,181.32 68.00,181.40 C70.67,181.48 73.33,181.50 76.00,181.70 C78.67,181.90 81.17,182.20 84.00,182.60 C86.83,183.00 89.93,183.62 93.00,184.10 C96.07,184.58 99.23,185.10 102.40,185.50 C105.57,185.90 108.23,186.22 112.00,186.50 C115.77,186.78 120.50,187.05 125.00,187.20 C129.50,187.35 134.00,187.37 139.00,187.40 C144.00,187.43 149.83,187.38 155.00,187.40 C160.17,187.42 165.83,187.47 170.00,187.50 C174.17,187.53 176.50,187.60 180.00,187.60 C183.50,187.60 188.00,187.53 191.00,187.50 C194.00,187.47 196.17,187.55 198.00,187.40 C199.83,187.25 200.83,187.02 202.00,186.60 C203.17,186.18 204.00,185.70 205.00,184.90 C206.00,184.10 207.08,182.95 208.00,181.80 C208.92,180.65 209.62,179.63 210.50,178.00 C211.38,176.37 212.48,174.08 213.30,172.00 C214.12,169.92 214.73,168.17 215.40,165.50 C216.07,162.83 216.50,160.25 217.30,156.00 C218.10,151.75 219.35,145.17 220.20,140.00 C221.05,134.83 221.50,130.83 222.40,125.00 C223.30,119.17 224.60,111.50 225.60,105.00 C226.60,98.50 227.75,90.50 228.40,86.00 C229.05,81.50 229.07,81.00 229.50,78.00 C229.93,75.00 230.57,71.00 230.95,68.00 C231.32,65.00 231.44,62.33 231.75,60.00 C232.06,57.67 232.43,55.83 232.80,54.00 C233.18,52.17 233.55,50.50 234.00,49.00 C234.45,47.50 234.90,46.17 235.50,45.00 C236.10,43.83 236.97,42.00 237.60,42.00 C238.23,42.00 238.83,43.67 239.30,45.00 C239.77,46.33 240.05,47.50 240.40,50.00 C240.75,52.50 240.90,55.33 241.40,60.00 C241.90,64.67 242.65,72.33 243.40,78.00 C244.15,83.67 245.17,89.50 245.90,94.00 C246.63,98.50 247.10,99.83 247.80,105.00 C248.50,110.17 248.97,117.50 250.10,125.00 C251.23,132.50 253.40,144.05 254.60,150.00 C255.80,155.95 256.13,157.43 257.30,160.70 C258.47,163.97 259.85,166.92 261.60,169.60 C263.35,172.28 265.40,174.82 267.80,176.80 C270.20,178.78 272.37,180.13 276.00,181.50 C279.63,182.87 285.60,184.30 289.60,185.00 C293.60,185.70 295.60,185.70 300.00,185.70 C304.40,185.70 311.00,185.17 316.00,185.00 C321.00,184.83 325.17,184.80 330.00,184.70 C334.83,184.60 340.00,184.52 345.00,184.40 C350.00,184.28 355.50,184.12 360.00,184.00 C364.50,183.88 367.83,183.80 372.00,183.70 C376.17,183.60 380.33,183.47 385.00,183.40 C389.67,183.33 394.17,183.30 400.00,183.30 C405.83,183.30 415.00,183.38 420.00,183.40 C425.00,183.42 428.33,183.40 430.00,183.40"/>
</g>
<g stroke="#808080" stroke-width="3.9" fill="none">
<path d="M221.40,219.80 V205.55 M221.40,199.17 V184.77 M221.40,178.39 V163.99 M221.40,157.61 V143.21 M221.40,136.83 V122.43 M221.40,116.05 V101.65 M221.40,95.27 V80.87 M221.40,74.49 V60.09 M221.40,53.71 V39.31 M221.40,32.93 V18.53 M221.40,12.15 V-2.25 M221.40,-8.63 V-23.03"/>
</g>
<g stroke="#202020" stroke-width="1.05" fill="none">
<path d="M67.80,-5 V219.80 H420.00 V-5"/>
<path d="M67.80,212.05 h-3.4"/>
<path d="M67.80,170.22 h-3.4"/>
<path d="M67.80,128.39 h-3.4"/>
<path d="M67.80,86.56 h-3.4"/>
<path d="M67.80,44.73 h-3.4"/>
<path d="M67.80,2.90 h-3.4"/>
<path d="M103.00,219.80 v3.4"/>
<path d="M173.45,219.80 v3.4"/>
<path d="M243.90,219.80 v3.4"/>
<path d="M314.35,219.80 v3.4"/>
<path d="M384.80,219.80 v3.4"/>
</g>
<text class="tk" x="60.8" y="216.40" text-anchor="end">0.00</text>
<text class="tk" x="60.8" y="174.57" text-anchor="end">0.05</text>
<text class="tk" x="60.8" y="132.74" text-anchor="end">0.10</text>
<text class="tk" x="60.8" y="90.91" text-anchor="end">0.15</text>
<text class="tk" x="60.8" y="49.08" text-anchor="end">0.20</text>
<text class="tk" x="60.8" y="7.25" text-anchor="end">0.25</text>
<text class="tk" x="103.00" y="236.7" text-anchor="middle">700</text>
<text class="tk" x="173.45" y="236.7" text-anchor="middle">800</text>
<text class="tk" x="243.90" y="236.7" text-anchor="middle">900</text>
<text class="tk" x="314.35" y="236.7" text-anchor="middle">1000</text>
<text class="tk" x="384.80" y="236.7" text-anchor="middle">1100</text>
<text class="al" x="244" y="252.3" text-anchor="middle">Temperature [K]</text>
<text class="al" style="font-size:13.75px" transform="translate(28.1,107.75) rotate(-90)" text-anchor="middle">Heat capacity [eV/K]</text>
<text class="an" x="93" y="155.8">Solid (Si + <tspan style="font-family:'DejaVu Sans',sans-serif;font-style:italic;font-size:13.8px">α</tspan>-Al)</text>
<text class="an" x="313.2" y="155.1" style="font-size:13px">Liquid</text>
<rect x="346.6" y="2.5" width="67" height="24.4" rx="2.4" ry="2.4" fill="#fff" fill-opacity="0.8" stroke="#cccccc" stroke-width="0.9"/>
<path d="M352.2,14 H380" stroke="#808080" stroke-width="3.7" stroke-dasharray="14.4 6.28" fill="none"/>
<text x="390.3" y="18.7" style="font-family:'Liberation Sans',sans-serif;font-size:13px" fill="#000">T<tspan dy="0.4" style="font-size:10px">m</tspan></text>
</svg></body></html>
